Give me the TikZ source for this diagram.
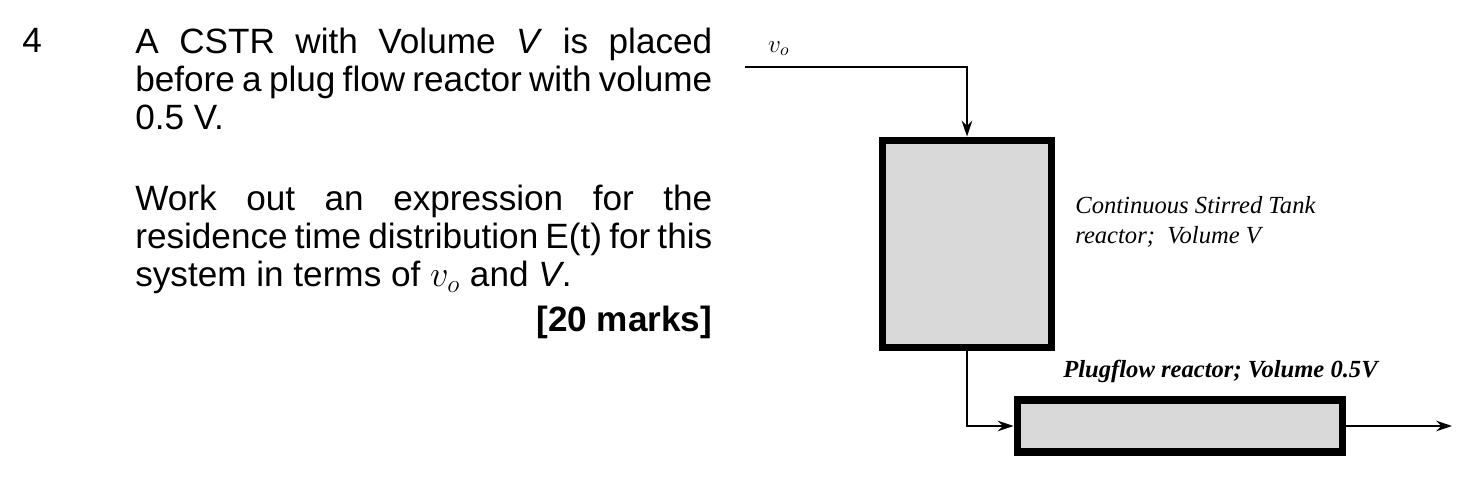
\documentclass[tikz,border=0pt]{standalone}
\usepackage{fontspec}
\setmainfont{Liberation Sans}
\newfontfamily\labfont{Liberation Serif}
\usetikzlibrary{positioning,arrows.meta}
\tikzset{
  reactor/.style={draw, line width=4pt, fill=black!15, inner sep=0pt},
  flow/.style={line width=1.2pt, -{Stealth[length=9pt,width=6pt]}},
  question/.style={anchor=north west, text width=11.54cm, align=justify, inner sep=0pt,
    font=\fontsize{20}{21.6}\selectfont},
  tag/.style={anchor=west, inner sep=0pt, font=\labfont\itshape\fontsize{14}{17}\selectfont, align=left}
}
\begin{document}
\begin{tikzpicture}[x=0.02cm, y=-0.02cm]
  \useasboundingbox (0,0) rectangle (1478,480);
  % question text
  \node[anchor=north west, inner sep=0pt, font=\fontsize{20}{21.6}\selectfont] (num) at (22,28) {4};
  \node[question] (qa) at (135,28) {A CSTR with Volume \textit{V} is placed\linebreak before a plug flow reactor with volume\linebreak 0.5 V.};
  \node[question] (qb) at (135,185) {Work out an expression for the\linebreak residence time distribution E(t) for this\linebreak system in terms of $v_o$ and \textit{V}.\par\vspace{4pt}\hfill\textbf{[20 marks]}};
  % reactors
  \node[reactor, minimum width=3.38cm, minimum height=4.16cm] (tank) at (967,244) {};
  \node[reactor, minimum width=6.52cm, minimum height=1.04cm] (pfr) at (1180,426) {};
  % streams
  \coordinate (feed) at (745,67);
  \coordinate (outlet) at (1452,426);
  \node[anchor=south west, inner sep=1pt, font=\Large] (vo) at (766,58) {$v_o$};
  \draw[flow] (feed) -| (tank.north);
  \draw[flow] (tank.south) |- (pfr.west);
  \draw[flow] (pfr.east) -- (outlet);
  % labels
  \node[tag] (tanklab) at (1075,222) {Continuous Stirred Tank\\reactor;\ \ Volume V};
  \node[tag, font=\labfont\bfseries\itshape\fontsize{14}{17}\selectfont] (pfrlab) at (1063,371) {Plugflow reactor; Volume 0.5V};
\end{tikzpicture}
\end{document}
